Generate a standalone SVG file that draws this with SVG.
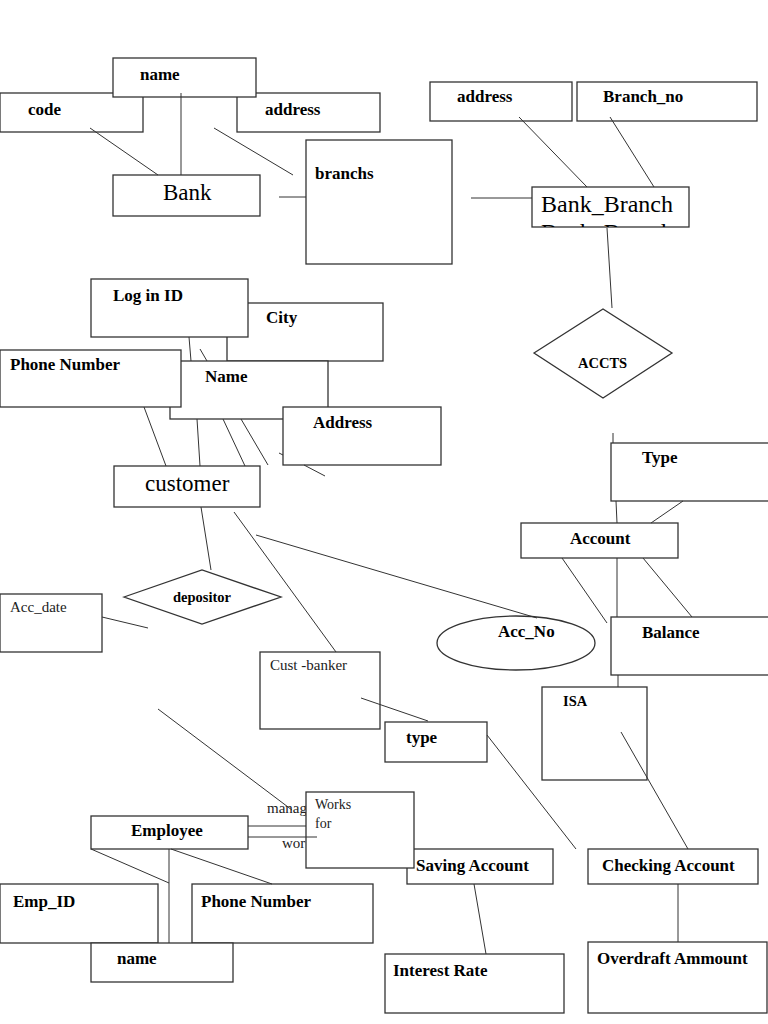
<svg xmlns="http://www.w3.org/2000/svg" width="768" height="1024" viewBox="0 0 768 1024">
<style>
.b{fill:#fff;stroke:#333;stroke-width:1.3}
.t{font-family:"Liberation Serif","Times New Roman",serif;font-weight:bold;font-size:17px;fill:#000}
.big{font-family:"Liberation Serif","Times New Roman",serif;font-size:23px;fill:#000}
.sm{font-family:"Liberation Serif","Times New Roman",serif;font-size:14.5px;font-weight:bold;fill:#000}
.r{font-family:"Liberation Serif","Times New Roman",serif;font-size:15px;fill:#222}
#conn line{stroke:#333;stroke-width:1}
</style>
<defs>
<clipPath id="bbclip"><rect x="532" y="187" width="157" height="40"/></clipPath>
</defs>
<rect width="768" height="1024" fill="#fff"/>

<g id="code"><rect class="b" x="0" y="93" width="143" height="39"/><text class="t" x="28" y="115">code</text></g>
<g id="bank-address"><rect class="b" x="237" y="93" width="143" height="39"/><text class="t" x="265" y="115">address</text></g>
<g id="bank-name"><rect class="b" x="113" y="58" width="143" height="39"/><text class="t" x="140" y="80">name</text></g>
<g id="bank"><rect class="b" x="113" y="175" width="147" height="41"/><text class="big" x="163" y="200">Bank</text></g>
<g id="branchs"><rect class="b" x="306" y="140" width="146" height="124"/><text class="t" x="315" y="179">branchs</text></g>
<g id="branch-address"><rect class="b" x="430" y="82" width="142" height="39"/><text class="t" x="457" y="102">address</text></g>
<g id="branch-no"><rect class="b" x="577" y="82" width="180" height="39"/><text class="t" x="603" y="102">Branch_no</text></g>
<g id="bank-branch"><rect class="b" x="532" y="187" width="157" height="40"/><text class="big" style="font-size:24px" x="541" y="212">Bank_Branch</text><text class="big" style="font-size:24px" x="541" y="240" clip-path="url(#bbclip)">Bank_Branch</text></g>
<g id="accts"><polygon class="b" points="534,353 603,309 672,353 603,398"/><text class="sm" x="578" y="368">ACCTS</text></g>

<g id="city"><rect class="b" x="227" y="303" width="156" height="58"/><text class="t" x="266" y="323">City</text></g>
<g id="login"><rect class="b" x="91" y="279" width="157" height="58"/><text class="t" x="113" y="301">Log in ID</text></g>
<g id="cname"><rect class="b" x="170" y="361" width="158" height="58"/><text class="t" x="205" y="382">Name</text></g>
<g id="cphone"><rect class="b" x="0" y="350" width="181" height="57"/><text class="t" x="10" y="370">Phone Number</text></g>
<g id="caddress"><rect class="b" x="283" y="407" width="158" height="58"/><text class="t" x="313" y="428">Address</text></g>
<g id="customer"><rect class="b" x="114" y="466" width="146" height="41"/><text class="big" x="145" y="491">customer</text></g>

<g id="type"><rect class="b" x="611" y="443" width="165" height="58"/><text class="t" x="642" y="463">Type</text></g>
<g id="account"><rect class="b" x="521" y="523" width="157" height="35"/><text class="t" x="570" y="544">Account</text></g>
<g id="balance"><rect class="b" x="611" y="617" width="165" height="58"/><text class="t" x="642" y="638">Balance</text></g>
<g id="accno"><ellipse class="b" cx="516" cy="643" rx="79" ry="27"/><text class="t" x="498" y="637">Acc_No</text></g>
<g id="isa"><rect class="b" x="542" y="687" width="105" height="93"/><text class="sm" x="563" y="706">ISA</text></g>

<g id="depositor"><polygon class="b" points="124,597 202,570 281,597 202,624"/><text class="sm" x="173" y="602">depositor</text></g>
<g id="accdate"><rect class="b" x="0" y="594" width="102" height="58"/><text class="r" x="10" y="612">Acc_date</text></g>
<g id="custbanker"><rect class="b" x="260" y="652" width="120" height="77"/><text class="r" x="270" y="670">Cust -banker</text></g>
<g id="btype"><rect class="b" x="385" y="722" width="102" height="40"/><text class="t" x="406" y="743">type</text></g>

<g id="saving"><rect class="b" x="407" y="849" width="146" height="35"/><text class="t" x="416" y="871">Saving Account</text></g>
<g id="checking"><rect class="b" x="588" y="849" width="170" height="35"/><text class="t" x="602" y="871">Checking Account</text></g>
<g id="labels"><text class="r" x="267" y="813">manag</text><text class="r" x="282" y="848">wor</text></g>
<g id="worksfor"><rect class="b" x="306" y="792" width="108" height="76"/><text class="r" style="font-size:14px" x="315" y="809">Works</text><text class="r" style="font-size:14px" x="315" y="828">for</text></g>
<g id="interest"><rect class="b" x="385" y="954" width="179" height="59"/><text class="t" x="393" y="976">Interest Rate</text></g>
<g id="overdraft"><rect class="b" x="588" y="942" width="179" height="71"/><text class="t" x="597" y="964">Overdraft Ammount</text></g>

<g id="employee"><rect class="b" x="91" y="816" width="157" height="33"/><text class="t" x="131" y="836">Employee</text></g>
<g id="empid"><rect class="b" x="0" y="884" width="158" height="59"/><text class="t" x="13" y="907">Emp_ID</text></g>
<g id="ephone"><rect class="b" x="192" y="884" width="181" height="59"/><text class="t" x="201" y="907">Phone Number</text></g>
<g id="ename"><rect class="b" x="91" y="943" width="142" height="39"/><text class="t" x="117" y="964">name</text></g>

<g id="conn">
<line x1="181" y1="93" x2="181" y2="175"/>
<line x1="90" y1="128" x2="158" y2="175"/>
<line x1="214" y1="128" x2="293" y2="175"/>
<line x1="279" y1="197" x2="306" y2="197"/>
<line x1="471" y1="198" x2="532" y2="198"/>
<line x1="519" y1="117" x2="587" y2="187"/>
<line x1="610" y1="117" x2="654" y2="187"/>
<line x1="607" y1="228" x2="612" y2="308"/>
<line x1="613" y1="433" x2="613" y2="443"/>
<line x1="616" y1="501" x2="617" y2="523"/>
<line x1="683" y1="501" x2="651" y2="523"/>
<line x1="562" y1="558" x2="607" y2="623"/>
<line x1="643" y1="558" x2="692" y2="617"/>
<line x1="617" y1="558" x2="617" y2="617"/>
<line x1="618" y1="675" x2="618" y2="687"/>
<line x1="621" y1="732" x2="688" y2="849"/>
<line x1="189" y1="337" x2="191" y2="361"/>
<line x1="197" y1="419" x2="200" y2="466"/>
<line x1="200" y1="349" x2="207" y2="361"/>
<line x1="241" y1="419" x2="268" y2="465"/>
<line x1="223" y1="419" x2="245" y2="466"/>
<line x1="144" y1="407" x2="166" y2="466"/>
<line x1="279" y1="453" x2="283" y2="455"/>
<line x1="304" y1="465" x2="325" y2="476"/>
<line x1="201" y1="507" x2="211" y2="570"/>
<line x1="234" y1="512" x2="336" y2="652"/>
<line x1="256" y1="535" x2="537" y2="618"/>
<line x1="102" y1="617" x2="148" y2="628"/>
<line x1="158" y1="709" x2="292" y2="810"/>
<line x1="361" y1="698" x2="428" y2="721"/>
<line x1="487" y1="735" x2="576" y2="849"/>
<line x1="248" y1="826" x2="306" y2="826"/>
<line x1="248" y1="837" x2="317" y2="837"/>
<line x1="91" y1="849" x2="169" y2="883"/>
<line x1="169" y1="849" x2="169" y2="943"/>
<line x1="171" y1="849" x2="272" y2="884"/>
<line x1="474" y1="884" x2="486" y2="954"/>
<line x1="678" y1="884" x2="678" y2="942"/>
</g>
</svg>
